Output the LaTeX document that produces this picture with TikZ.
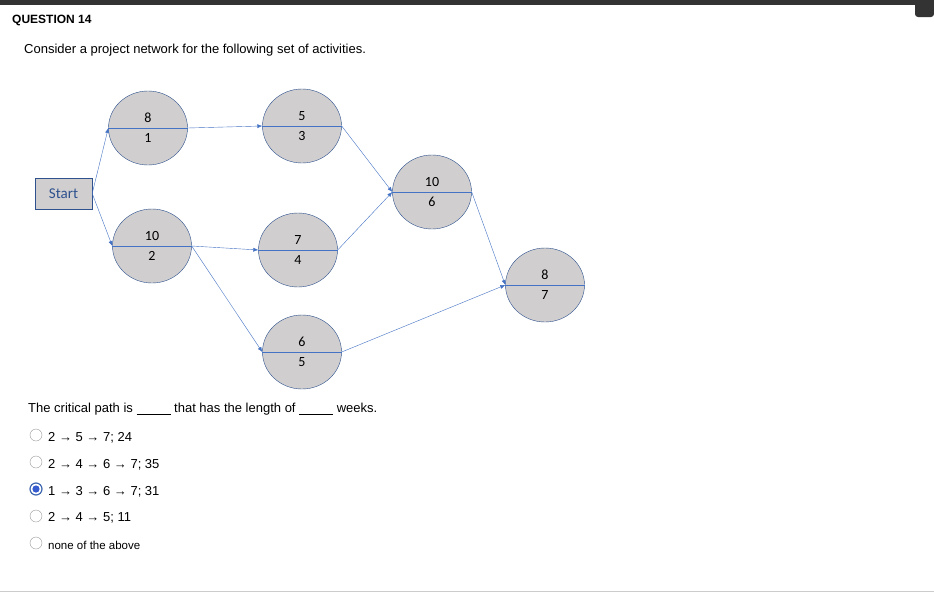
\documentclass[tikz,border=0pt]{standalone}
\usepackage{fontspec}
\setmainfont{Liberation Sans}
\newfontfamily\calfont{Carlito}
\usetikzlibrary{shapes.geometric,arrows.meta}
\definecolor{ln}{HTML}{4472C4}
\definecolor{fillg}{HTML}{D0CECE}
\definecolor{bord}{HTML}{2F528F}
\begin{document}
\begin{tikzpicture}[x=1pt,y=-1pt,
  act/.style={ellipse,draw=bord,fill=fillg,minimum width=79pt,minimum height=74pt,inner sep=0pt,font=\calfont\fontsize{14}{15}\selectfont},
  conn/.style={ln,-{Latex[length=5pt,width=4pt]}},
  radio/.style={circle,draw=gray!80,minimum size=12pt,inner sep=0pt},
  txt/.style={anchor=west,inner sep=0pt,font=\fontsize{13}{15}\selectfont}]
\useasboundingbox (0,0) rectangle (934,597);
\fill[white] (0,0) rectangle (934,597);
\fill[black!80] (0,0) rectangle (934,5);
\fill[black!80,rounded corners=3pt] (915,0) rectangle (934,17);
\draw[gray!40] (0,591) -- (934,591);
\node[txt,font=\bfseries\fontsize{12}{14}\selectfont] (q) at (12,20) {QUESTION 14};
\node[txt] (c) at (24,50) {Consider a project network for the following set of activities.};
% network
\node[draw=bord,fill=fillg,minimum width=57pt,minimum height=31pt,inner sep=0pt,font=\calfont\fontsize{15}{16}\selectfont,text=bord] (s) at (63.5,193.5) {Start};
\node[act] (n1) at (148,128) {};
\node[act] (n2) at (152,246) {};
\node[act] (n3) at (302,126) {};
\node[act] (n4) at (298,250) {};
\node[act] (n5) at (302,352) {};
\node[act] (n6) at (432,192) {};
\node[act] (n7) at (545,285) {};
\foreach \n/\a/\b in {n1/1/8,n2/2/10,n3/3/5,n4/4/7,n5/5/6,n6/6/10,n7/7/8}{
  \draw[ln] (\n.west) -- (\n.east);
  \node[font=\calfont\fontsize{14}{15}\selectfont] (\n a) at ([yshift=-10pt]\n.center) {\a};
  \node[font=\calfont\fontsize{14}{15}\selectfont] (\n b) at ([yshift=10pt]\n.center) {\b};
}
\draw[conn] (s.east) -- (n1.west);
\draw[conn] (s.east) -- (n2.west);
\draw[conn] (n1.east) -- (n3.west);
\draw[conn] (n2.east) -- (n4.west);
\draw[conn] (n2.east) -- (n5.west);
\draw[conn] (n3.east) -- (n6.west);
\draw[conn] (n4.east) -- (n6.west);
\draw[conn] (n6.east) -- (n7.west);
\draw[conn] (n5.east) -- (n7.west);
% question
\node[txt] (t) at (28,409) {The critical path is \underline{\hspace{34pt}} that has the length of \underline{\hspace{34pt}} weeks.};
\node[radio] (r1) at (36,435) {};
\node[radio] (r2) at (36,462) {};
\node[radio,draw=ln!90!black,line width=1.2pt] (r3) at (36,489) {};
\fill[ln!80!blue] (r3.center) circle (3.6pt);
\node[radio] (r4) at (36,516) {};
\node[radio] (r5) at (36,543) {};
\node[txt] (a1) at (48,438) {2 → 5 → 7; 24};
\node[txt] (a2) at (48,465) {2 → 4 → 6 → 7; 35};
\node[txt] (a3) at (48,492) {1 → 3 → 6 → 7; 31};
\node[txt] (a4) at (48,518) {2 → 4 → 5; 11};
\node[txt,font=\fontsize{11.5}{14}\selectfont] (a5) at (48,545) {none of the above};
\end{tikzpicture}
\end{document}
